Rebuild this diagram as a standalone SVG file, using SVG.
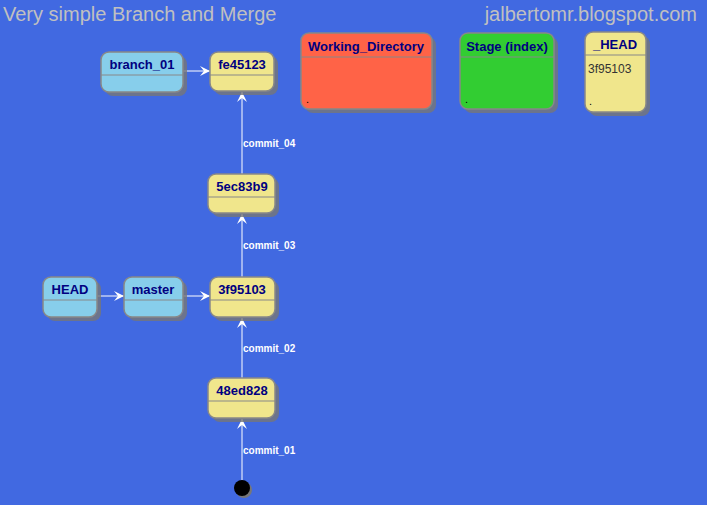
<svg xmlns="http://www.w3.org/2000/svg" width="707" height="505" viewBox="0 0 707 505">
<style>
.n{stroke:#888;stroke-width:1.5}
.sh{fill:#777;opacity:.8}
.d{stroke:#888;stroke-width:1}
.t{font-family:"Liberation Sans",Arial,sans-serif;font-size:13px;font-weight:bold;fill:#000080;text-anchor:middle}
.l{font-family:"Liberation Sans",Arial,sans-serif;font-size:10px;font-weight:bold;fill:#fff}
.e{stroke:#fff;stroke-width:1;fill:none}
.b{fill:#87CEEB}.y{fill:#F0E68C}
</style>
<defs><marker id="a" viewBox="0 0 10 10" refX="10" refY="5" markerWidth="10" markerHeight="10" orient="auto" markerUnits="userSpaceOnUse"><path d="M0,0 L10,5 L0,10 L4,5 Z" fill="#fff"/></marker></defs>
<rect width="707" height="505" fill="#4169E1"/>
<text x="3" y="21" font-family="Liberation Sans,Arial,sans-serif" font-size="20" fill="#C0C0C0">Very simple Branch and Merge</text>
<text x="697" y="21" font-family="Liberation Sans,Arial,sans-serif" font-size="20" fill="#C0C0C0" text-anchor="end">jalbertomr.blogspot.com</text>
<g id="connectors">
<line class="e" x1="183" y1="71" x2="210" y2="71" marker-end="url(#a)"/>
<line class="e" x1="242" y1="174" x2="242" y2="92" marker-end="url(#a)"/>
<line class="e" x1="242" y1="277" x2="242" y2="214" marker-end="url(#a)"/>
<line class="e" x1="242" y1="378" x2="242" y2="318" marker-end="url(#a)"/>
<line class="e" x1="242" y1="480" x2="242" y2="419" marker-end="url(#a)"/>
<line class="e" x1="97" y1="296" x2="124" y2="296" marker-end="url(#a)"/>
<line class="e" x1="183" y1="296" x2="210" y2="296" marker-end="url(#a)"/>
<text class="l" x="243" y="147">commit_04</text>
<text class="l" x="243" y="249">commit_03</text>
<text class="l" x="243" y="352">commit_02</text>
<text class="l" x="243" y="454">commit_01</text>
</g>
<g id="branch_01"><rect class="sh" x="105" y="56" width="82" height="40" rx="8"/><rect class="n b" x="101" y="52" width="82" height="40" rx="8"/><line class="d" x1="101" y1="75" x2="183" y2="75"/><text class="t" x="142" y="69">branch_01</text></g>
<g id="fe45123"><rect class="sh" x="214" y="56" width="64" height="39" rx="8"/><rect class="n y" x="210" y="52" width="64" height="39" rx="8"/><line class="d" x1="210" y1="75" x2="274" y2="75"/><text class="t" x="242" y="69">fe45123</text></g>
<g id="Working_Directory"><rect class="sh" x="305" y="37" width="131" height="76" rx="8"/><rect class="n" fill="#FF6347" x="301" y="33" width="131" height="76" rx="8"/><line class="d" x1="301" y1="57" x2="432" y2="57"/><text class="t" x="366" y="51">Working_Directory</text><text x="306" y="103" font-family="Liberation Sans,sans-serif" font-size="11">.</text></g>
<g id="Stage"><rect class="sh" x="464" y="37" width="94" height="76" rx="8"/><rect class="n" fill="#32CD32" x="460" y="33" width="94" height="76" rx="8"/><line class="d" x1="460" y1="57" x2="554" y2="57"/><text class="t" x="507" y="51">Stage (index)</text><text x="465" y="103" font-family="Liberation Sans,sans-serif" font-size="11">.</text></g>
<g id="_HEAD"><rect class="sh" x="589" y="36" width="61" height="80" rx="8"/><rect class="n y" x="585" y="32" width="61" height="80" rx="8"/><line class="d" x1="585" y1="55" x2="646" y2="55"/><text class="t" x="615" y="49">_HEAD</text><text x="588" y="73" font-family="Liberation Sans,sans-serif" font-size="12" fill="#333">3f95103</text><text x="589" y="105" font-family="Liberation Sans,sans-serif" font-size="11">.</text></g>
<g id="5ec83b9"><rect class="sh" x="212" y="178" width="67" height="39" rx="8"/><rect class="n y" x="208" y="174" width="67" height="39" rx="8"/><line class="d" x1="208" y1="197" x2="275" y2="197"/><text class="t" x="242" y="191">5ec83b9</text></g>
<g id="3f95103"><rect class="sh" x="214" y="281" width="65" height="40" rx="8"/><rect class="n y" x="210" y="277" width="65" height="40" rx="8"/><line class="d" x1="210" y1="300" x2="275" y2="300"/><text class="t" x="242" y="294">3f95103</text></g>
<g id="HEAD"><rect class="sh" x="47" y="281" width="54" height="40" rx="8"/><rect class="n b" x="43" y="277" width="54" height="40" rx="8"/><line class="d" x1="43" y1="300" x2="97" y2="300"/><text class="t" x="70" y="294">HEAD</text></g>
<g id="master"><rect class="sh" x="128" y="281" width="59" height="40" rx="8"/><rect class="n b" x="124" y="277" width="59" height="40" rx="8"/><line class="d" x1="124" y1="300" x2="183" y2="300"/><text class="t" x="153" y="294">master</text></g>
<g id="48ed828"><rect class="sh" x="212" y="382" width="67" height="40" rx="8"/><rect class="n y" x="208" y="378" width="67" height="40" rx="8"/><line class="d" x1="208" y1="401" x2="275" y2="401"/><text class="t" x="242" y="395">48ed828</text></g>
<g id="start"><circle cx="244" cy="490" r="8" fill="#777"/><circle cx="242" cy="488" r="8" fill="#000"/></g>
</svg>
